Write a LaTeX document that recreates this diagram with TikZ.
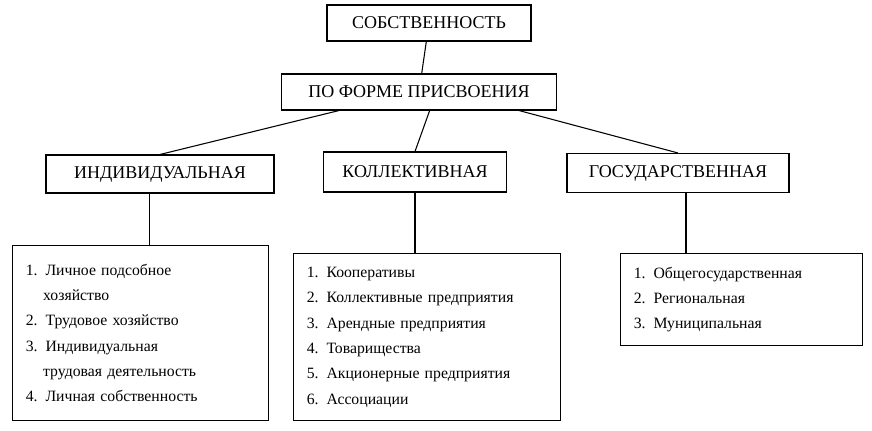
\documentclass[tikz,border=0pt]{standalone}
\usepackage{fontspec}
\setmainfont{Liberation Serif}
\usetikzlibrary{positioning}
\tikzset{head/.style={draw,thick,font=\fontsize{13.5}{16}\selectfont,inner sep=0pt},
  listbox/.style={draw,thick,anchor=north west,align=left,inner sep=0pt,inner xsep=10pt,font=\fontsize{11.8}{19}\selectfont}}
\begin{document}
\begin{tikzpicture}[x=0.75pt,y=-0.75pt]
    \useasboundingbox (0,0) rectangle (872,430);
    % header boxes
    \node (own)[head, minimum width=204*0.75pt, minimum height=36*0.75pt] at (429,23) {СОБСТВЕННОСТЬ};
    \node (form)[head, minimum width=275*0.75pt, minimum height=36*0.75pt] at (419,92) {ПО ФОРМЕ ПРИСВОЕНИЯ};
    \node (ind)[head, minimum width=228*0.75pt, minimum height=38*0.75pt] at (160,174) {ИНДИВИДУАЛЬНАЯ};
    \node (col)[head, minimum width=183*0.75pt, minimum height=40*0.75pt] at (415,172) {КОЛЛЕКТИВНАЯ};
    \node (gov)[head, minimum width=222*0.75pt, minimum height=39*0.75pt] at (678,173) {ГОСУДАРСТВЕННАЯ};
    % list boxes
    \node (indlist)[listbox, text width=229*0.75pt, minimum height=175*0.75pt] at (12,245)
      {1. Личное подсобное\\\hspace*{1.1em}хозяйство\\2. Трудовое хозяйство\\3. Индивидуальная\\\hspace*{1.1em}трудовая деятельность\\4. Личная собственность};
    \node (collist)[listbox, text width=240*0.75pt, minimum height=167*0.75pt] at (293,253)
      {1. Кооперативы\\2. Коллективные предприятия\\3. Арендные предприятия\\4. Товарищества\\5. Акционерные предприятия\\6. Ассоциации};
    \node (govlist)[listbox, text width=215*0.75pt, minimum height=92*0.75pt] at (620,253)
      {1. Общегосударственная\\2. Региональная\\3. Муниципальная};
    % connect the nodes
    \draw[thick] (own) -- (form);
    \draw[thick] ([xshift=-60pt]form.south) -- (ind.north);
    \draw[thick] ([xshift=8pt]form.south) -- (col.north);
    \draw[thick] ([xshift=75pt]form.south) -- (gov.north);
    \draw[thick] ([xshift=-8pt]ind.south) -- ([xshift=-8pt]ind.south |- indlist.north);
    \draw[thick] (col) -- (col |- collist.north);
    \draw[thick] ([xshift=6pt]gov.south) -- ([xshift=6pt]gov.south |- govlist.north);
\end{tikzpicture}
\end{document}
